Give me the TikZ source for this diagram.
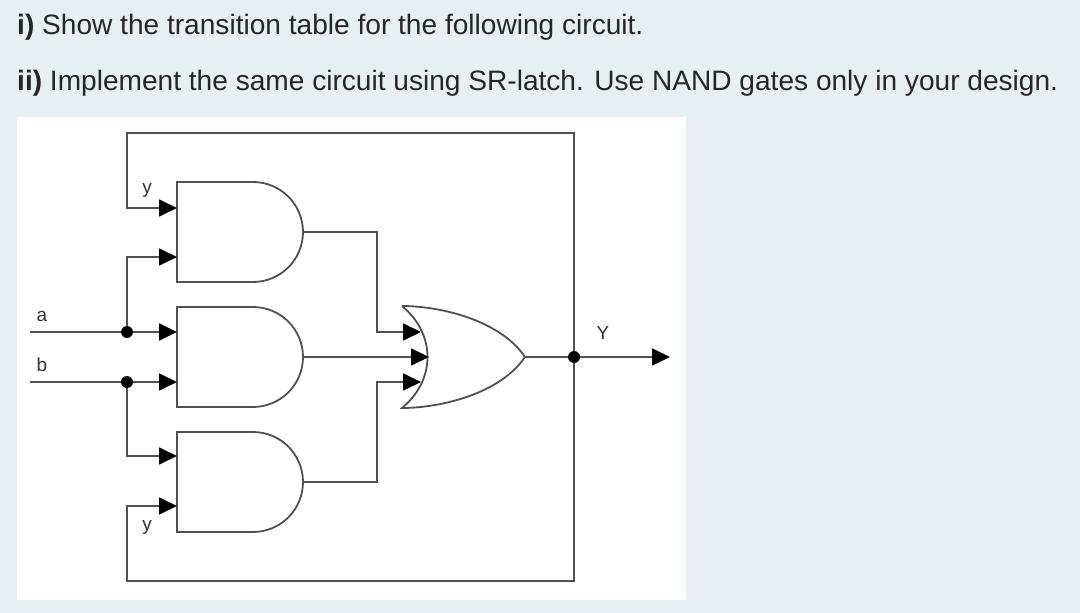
\documentclass[tikz,border=0pt]{standalone}
\usepackage{fontspec}
\setmainfont{Liberation Sans}
\usetikzlibrary{arrows.meta}
\definecolor{bgc}{HTML}{E6F0F3}
\definecolor{wire}{HTML}{505050}
\begin{document}
\begin{tikzpicture}[x=1bp,y=-1bp,
  w/.style={draw=wire,line width=1.8bp},
  inarr/.style={w,-{Triangle[length=18bp,width=17bp,fill=black,color=black]}},
  lbl/.style={font=\fontsize{19}{19}\selectfont,text=black!80,inner sep=0}]
\fill[bgc] (0,0) rectangle (1080,613);
\useasboundingbox (0,0) rectangle (1080,613);
\fill[white] (17,117) rectangle (686,600);
\node[anchor=west,inner sep=0,font=\fontsize{28.2}{28.2}\selectfont,text=black!85] (t1) at (17,27) {\textbf{i)} Show the transition table for the following circuit.};
\node[anchor=west,inner sep=0,font=\fontsize{28.2}{28.2}\selectfont,text=black!85] (t2) at (17,83) {\textbf{ii)} Implement the same circuit using SR-latch. Use NAND gates only in your design.};
% AND gates
\foreach \n/\yy in {g1/182,g2/307,g3/432}{
  \draw[w] (177,\yy) -- (253,\yy) arc[start angle=90,end angle=-90,x radius=50,y radius=-50] -- (177,\yy+100) -- cycle;
  \coordinate (\n o) at (303,\yy+50);
}
% OR gate
\draw[w] (402,306) .. controls (440,306) and (500,320) .. (525,357)
  .. controls (500,394) and (440,408) .. (402,408)
  .. controls (436,380) and (436,334) .. (402,306);
\coordinate (orout) at (525,357);
% nodes / coordinates
\coordinate (ain) at (30,332); \coordinate (bin) at (30,382);
\coordinate (ja) at (127,332); \coordinate (jb) at (127,382);
\coordinate (jy) at (574,357);
\coordinate (yout) at (670,357);
% inputs
\draw[inarr] (ain) -- (177,332);
\draw[inarr] (bin) -- (177,382);
\draw[inarr] (ja) |- (177,257);
\draw[inarr] (jb) |- (177,456);
\draw[inarr] (jy) |- (127,133) |- (177,208);
\draw[inarr] (jy) |- (127,581) |- (177,506);
% to OR
\draw[inarr] (g1o) -| (377,332) -- (421,332);
\draw[inarr] (g2o) -- (429,357);
\draw[inarr] (g3o) -| (377,382) -- (421,382);
\draw[w] (orout) -- (jy);
\draw[inarr] (jy) -- (yout);
\fill[black] (ja) circle (6bp); \fill[black] (jb) circle (6bp); \fill[black] (jy) circle (6bp);
% labels
\node[lbl] (la) at (42,316) {a};
\node[lbl] (lb) at (42,365) {b};
\node[lbl] (ly1) at (147,190) {y};
\node[lbl] (ly2) at (147,527) {y};
\node[lbl] (lY) at (603,333) {Y};
\end{tikzpicture}
\end{document}
